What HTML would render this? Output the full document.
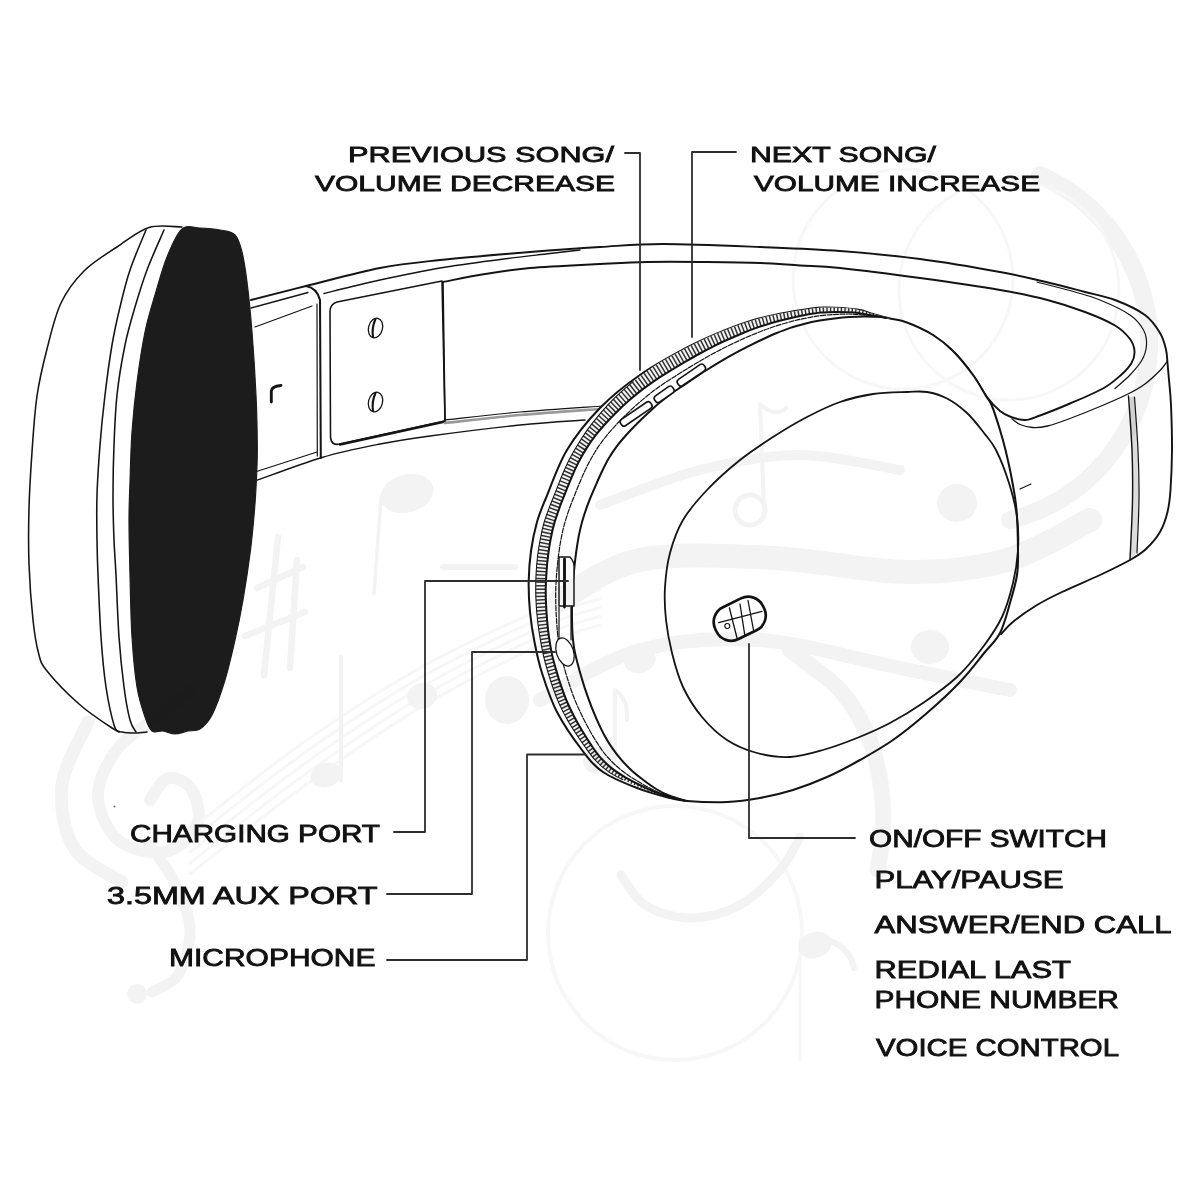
<!DOCTYPE html>
<html><head><meta charset="utf-8"><title>Headphone controls diagram</title>
<style>
html,body{margin:0;padding:0;background:#fff;}
body{width:1200px;height:1200px;overflow:hidden;font-family:"Liberation Sans",sans-serif;}
svg{display:block;filter:blur(0.4px);}
text{font-family:"Liberation Sans",sans-serif;}
</style></head><body>
<svg width="1200" height="1200" viewBox="0 0 1200 1200" stroke-linecap="round" stroke-linejoin="round">
<rect width="1200" height="1200" fill="#ffffff"/>
<path d="M251.0 300.0C260.2 297.7 284.5 291.3 306.0 286.0C327.5 280.7 357.7 272.3 380.0 268.0C402.3 263.7 415.0 262.7 440.0 260.0C465.0 257.3 503.3 254.2 530.0 252.0C556.7 249.8 577.8 248.3 600.0 247.0C622.2 245.7 636.3 244.0 663.0 244.0C689.7 244.0 730.5 245.8 760.0 247.0C789.5 248.2 813.3 249.0 840.0 251.0C866.7 253.0 893.3 255.5 920.0 259.0C946.7 262.5 978.3 268.0 1000.0 272.0C1021.7 276.0 1035.8 279.7 1050.0 283.0C1064.2 286.3 1074.2 289.2 1085.0 292.0C1095.8 294.8 1105.0 296.2 1115.0 300.0C1125.0 303.8 1137.5 309.5 1145.0 315.0C1152.5 320.5 1156.5 327.2 1160.0 333.0C1163.5 338.8 1164.8 344.5 1166.0 349.5C1167.2 354.5 1167.0 357.9 1167.5 363.0C1168.0 368.1 1168.4 373.0 1169.0 380.0C1169.6 387.0 1170.5 393.3 1171.0 405.0C1171.5 416.7 1172.1 435.8 1172.0 450.0C1171.9 464.2 1171.2 479.7 1170.5 490.0C1169.8 500.3 1169.2 505.0 1167.5 512.0C1165.8 519.0 1163.6 525.8 1160.0 532.0C1156.4 538.2 1151.0 544.3 1146.0 549.0C1141.0 553.7 1137.7 555.7 1130.0 560.0C1122.3 564.3 1111.3 569.7 1100.0 575.0C1088.7 580.3 1072.5 587.0 1062.0 592.0C1051.5 597.0 1045.0 600.2 1037.0 605.0C1029.0 609.8 1020.0 616.2 1014.0 621.0C1008.0 625.8 1003.2 631.8 1001.0 634.0" fill="none" stroke="#141414" stroke-width="1.92" />
<path d="M251.0 308.0C260.5 305.4 298.5 295.1 308.0 292.5" fill="none" stroke="#141414" stroke-width="1.32" />
<path d="M324.0 293.5C333.3 291.2 360.7 284.2 380.0 280.0C399.3 275.8 420.0 271.4 440.0 268.0C460.0 264.6 481.7 261.9 500.0 259.5C518.3 257.1 536.7 255.1 550.0 253.5C563.3 251.9 575.0 250.6 580.0 250.0" fill="none" stroke="#141414" stroke-width="1.32" />
<path d="M1037.0 282.0C1043.3 283.7 1064.5 289.0 1075.0 292.0C1085.5 295.0 1090.8 296.2 1100.0 300.0C1109.2 303.8 1122.8 310.0 1130.0 315.0C1137.2 320.0 1140.8 325.0 1143.5 330.0C1146.2 335.0 1146.8 340.0 1146.5 345.0C1146.2 350.0 1144.8 355.0 1142.0 360.0C1139.2 365.0 1134.5 370.2 1130.0 375.0C1125.5 379.8 1117.5 386.2 1115.0 388.5" fill="none" stroke="#141414" stroke-width="1.2" />
<path d="M1167.5 361.0C1166.2 362.6 1163.8 366.7 1160.0 370.5C1156.2 374.3 1150.5 380.0 1145.0 384.0C1139.5 388.0 1134.5 390.8 1127.0 394.5C1119.5 398.2 1109.5 402.5 1100.0 406.5C1090.5 410.5 1078.8 415.2 1070.0 418.5C1061.2 421.8 1053.8 424.5 1047.5 426.0C1041.2 427.5 1037.1 427.8 1032.5 427.5C1027.9 427.2 1023.4 425.9 1020.0 424.5C1016.6 423.1 1013.3 419.9 1012.0 419.0" fill="none" stroke="#141414" stroke-width="1.32" />
<path d="M443.0 282.0C450.0 280.7 470.5 276.3 485.0 274.0C499.5 271.7 510.8 269.7 530.0 268.0C549.2 266.3 580.5 265.0 600.0 264.0C619.5 263.0 630.3 262.3 647.0 262.0C663.7 261.7 681.2 261.8 700.0 262.0C718.8 262.2 743.3 262.4 760.0 263.0C776.7 263.6 786.7 264.7 800.0 265.5C813.3 266.3 820.0 265.9 840.0 268.0C860.0 270.1 893.3 274.3 920.0 278.0C946.7 281.7 978.8 286.3 1000.0 290.0C1021.2 293.7 1033.3 296.3 1047.5 300.0C1061.7 303.7 1073.8 307.8 1085.0 312.0C1096.2 316.2 1107.5 321.0 1115.0 325.5C1122.5 330.0 1126.8 334.8 1130.0 339.0C1133.2 343.2 1134.2 347.0 1134.5 351.0C1134.8 355.0 1133.8 359.0 1131.5 363.0C1129.2 367.0 1125.8 370.8 1121.0 375.0C1116.2 379.2 1111.5 383.8 1103.0 388.5C1094.5 393.2 1080.5 399.0 1070.0 403.5C1059.5 408.0 1047.5 412.8 1040.0 415.5C1032.5 418.2 1029.8 419.8 1025.0 420.0C1020.2 420.2 1015.2 418.5 1011.0 417.0C1006.8 415.5 1004.0 414.3 1000.0 411.0C996.0 407.7 991.5 403.0 987.0 397.0C982.5 391.0 978.7 382.7 973.0 375.0C967.3 367.3 959.7 357.7 953.0 351.0C946.3 344.3 936.3 337.7 933.0 335.0" fill="none" stroke="#141414" stroke-width="1.92" />
<path d="M255.0 327.0L312.0 306.0" fill="none" stroke="#141414" stroke-width="1.2" />
<path d="M255.0 472.0L317.0 452.0" fill="none" stroke="#141414" stroke-width="1.2" />
<path d="M306 286 Q317 288 320 300 L320.8 458" fill="none" stroke="#141414" stroke-width="2.04" />
<path d="M317 304 L317.3 456" fill="none" stroke="#141414" stroke-width="1.2" />
<path d="M337 302 L442 281 L445 421 L340 444 Q331 446 330.5 437 L330 312 Q330 304 337 302Z" fill="none" stroke="#141414" stroke-width="1.56" />
<path d="M340.0 444.5L445.0 421.5" fill="none" stroke="#141414" stroke-width="2.64" />
<path d="M443.0 282.0L445.0 421.0" fill="none" stroke="#141414" stroke-width="1.56" />
<ellipse cx="375.5" cy="328" rx="7" ry="10" fill="none" stroke="#141414" stroke-width="1.3" transform="rotate(14 375.5 328)"/>
<path d="M375.5 319 Q371.5 328 373 337" fill="none" stroke="#141414" stroke-width="2.16" />
<ellipse cx="375.5" cy="402" rx="7" ry="10" fill="none" stroke="#141414" stroke-width="1.3" transform="rotate(14 375.5 402)"/>
<path d="M375.5 393 Q371.5 402 373 411" fill="none" stroke="#141414" stroke-width="2.16" />
<path d="M271.3 402 L271.3 391 Q271.5 386.5 281 385.5" fill="none" stroke="#141414" stroke-width="2.88" />
<path d="M445.0 420.0C457.5 418.7 493.7 414.3 520.0 412.0C546.3 409.7 589.2 407.0 603.0 406.0" fill="none" stroke="#141414" stroke-width="1.2" />
<path d="M445.0 423.0C457.5 421.7 494.2 417.3 520.0 415.0C545.8 412.7 586.7 410.0 600.0 409.0" fill="none" stroke="#9a9a9a" stroke-width="2.64" />
<path d="M255.0 481.0C266.2 477.1 301.2 463.7 322.0 457.5C342.8 451.3 362.0 447.6 380.0 444.0C398.0 440.4 406.7 439.2 430.0 436.0C453.3 432.8 494.2 427.7 520.0 425.0C545.8 422.3 574.2 420.8 585.0 420.0" fill="none" stroke="#141414" stroke-width="1.44" />
<path d="M1129 397 L1134.5 397 L1138 450 L1139 500 L1137 552 L1130.5 559 L1132.5 500 L1132 450 Z" fill="#dcdcdc" stroke="none" stroke-width="0" />
<path d="M1128.5 396.0C1129.1 405.0 1131.3 432.7 1132.0 450.0C1132.7 467.3 1132.8 481.7 1132.5 500.0C1132.2 518.3 1130.4 550.0 1130.0 560.0" fill="none" stroke="#141414" stroke-width="1.44" />
<path d="M1134.5 397.0C1135.1 405.8 1137.2 432.8 1138.0 450.0C1138.8 467.2 1139.2 482.8 1139.0 500.0C1138.8 517.2 1137.3 544.2 1137.0 553.0" fill="none" stroke="#141414" stroke-width="1.2" />
<path d="M1020.0 489.0L1031.0 484.0" fill="none" stroke="#141414" stroke-width="1.2" />
<path d="M182.0 227.0C176.5 227.1 159.8 224.2 149.0 227.5C138.2 230.8 127.8 239.8 117.0 247.0C106.2 254.2 93.3 261.7 84.0 271.0C74.7 280.3 67.2 290.0 61.0 303.0C54.8 316.0 51.0 333.5 47.0 349.0C43.0 364.5 39.5 378.8 37.0 396.0C34.5 413.2 33.3 433.3 32.0 452.0C30.7 470.7 29.5 489.3 29.0 508.0C28.5 526.7 28.3 545.3 29.0 564.0C29.7 582.7 31.4 605.2 33.0 620.0C34.6 634.8 36.2 644.5 38.5 653.0C40.8 661.5 40.2 662.5 47.0 671.0C53.8 679.5 68.2 694.5 79.0 704.0C89.8 713.5 104.8 723.3 112.0 728.0C119.2 732.7 118.2 731.2 122.0 732.0C125.8 732.8 130.8 733.0 135.0 733.0C139.2 733.0 145.0 732.2 147.0 732.0" fill="#fff" stroke="#141414" stroke-width="1.56" />
<path d="M146.0 230.0C143.3 236.7 134.3 257.2 130.0 270.0C125.7 282.8 123.0 294.5 120.0 307.0C117.0 319.5 114.5 330.3 112.0 345.0C109.5 359.7 107.0 378.3 105.0 395.0C103.0 411.7 101.3 428.3 100.0 445.0C98.7 461.7 97.5 479.2 97.0 495.0C96.5 510.8 96.8 526.7 97.0 540.0C97.2 553.3 97.3 558.8 98.0 575.0C98.7 591.2 99.7 618.3 101.0 637.0C102.3 655.7 103.8 672.3 106.0 687.0C108.2 701.7 111.8 717.5 114.0 725.0C116.2 732.5 118.2 730.8 119.0 732.0" fill="none" stroke="#141414" stroke-width="1.56" />
<path d="M164.0 230.0C161.2 236.7 151.8 257.2 147.0 270.0C142.2 282.8 138.7 294.5 135.0 307.0C131.3 319.5 128.0 330.3 125.0 345.0C122.0 359.7 118.8 378.3 117.0 395.0C115.2 411.7 114.7 428.3 114.0 445.0C113.3 461.7 113.0 479.2 113.0 495.0C113.0 510.8 113.5 526.7 114.0 540.0C114.5 553.3 115.2 558.8 116.0 575.0C116.8 591.2 117.7 618.3 119.0 637.0C120.3 655.7 122.2 673.2 124.0 687.0C125.8 700.8 128.0 712.5 130.0 720.0C132.0 727.5 135.0 730.0 136.0 732.0" fill="none" stroke="#141414" stroke-width="1.56" />
<path d="M182.0 229.0C176.5 233.8 171.5 246.0 167.0 257.0C162.5 268.0 158.7 282.5 155.0 295.0C151.3 307.5 148.0 317.5 145.0 332.0C142.0 346.5 139.2 365.3 137.0 382.0C134.8 398.7 133.2 415.3 132.0 432.0C130.8 448.7 130.5 467.3 130.0 482.0C129.5 496.7 129.0 504.5 129.0 520.0C129.0 535.5 129.5 555.5 130.0 575.0C130.5 594.5 130.8 618.3 132.0 637.0C133.2 655.7 134.8 673.7 137.0 687.0C139.2 700.3 142.5 709.7 145.0 717.0C147.5 724.3 149.0 728.7 152.0 731.0C155.0 733.3 159.2 730.5 163.0 731.0C166.8 731.5 170.8 734.0 175.0 734.0C179.2 734.0 183.8 731.8 188.0 731.0C192.2 730.2 196.0 731.7 200.0 729.0C204.0 726.3 207.8 723.2 212.0 715.0C216.2 706.8 221.2 692.5 225.0 680.0C228.8 667.5 232.0 653.3 235.0 640.0C238.0 626.7 240.4 615.0 243.0 600.0C245.6 585.0 248.6 565.0 250.5 550.0C252.4 535.0 253.5 522.0 254.5 510.0C255.5 498.0 256.0 488.8 256.5 478.0C257.0 467.2 257.4 458.8 257.3 445.0C257.2 431.2 256.9 413.8 256.0 395.0C255.1 376.2 253.5 350.8 252.0 332.0C250.5 313.2 248.7 295.3 247.0 282.0C245.3 268.7 244.0 259.8 242.0 252.0C240.0 244.2 238.7 238.7 235.0 235.0C231.3 231.3 225.8 231.2 220.0 230.0C214.2 228.8 206.3 228.2 200.0 228.0C193.7 227.8 187.5 224.2 182.0 229.0Z" fill="#1c1c1c" stroke="#1c1c1c" stroke-width="1.2" />
<path d="M1018.0 550.0C1017.9 539.2 1017.5 521.7 1016.5 510.0C1015.5 498.3 1013.8 490.0 1012.0 480.0C1010.2 470.0 1007.5 458.3 1005.5 450.0C1003.5 441.7 1002.2 437.3 1000.0 430.0C997.8 422.7 994.3 411.7 992.0 406.0C989.7 400.3 989.2 401.2 986.0 396.0C982.8 390.8 978.5 382.5 973.0 375.0C967.5 367.5 959.7 357.7 953.0 351.0C946.3 344.3 940.7 339.8 933.0 335.0C925.3 330.2 914.2 325.2 907.0 322.5C899.8 319.8 895.7 319.9 890.0 318.5C884.3 317.1 878.5 315.5 873.0 314.0C867.5 312.5 865.3 310.6 857.0 309.5C848.7 308.4 834.2 307.1 823.0 307.5C811.8 307.9 801.0 310.1 790.0 312.0C779.0 313.9 768.2 315.8 757.0 319.0C745.8 322.2 734.2 326.5 723.0 331.0C711.8 335.5 703.8 338.7 690.0 346.0C676.2 353.3 655.0 364.7 640.0 375.0C625.0 385.3 612.2 395.5 600.0 408.0C587.8 420.5 576.0 435.0 567.0 450.0C558.0 465.0 551.0 486.0 546.0 498.0C541.0 510.0 539.5 513.2 537.0 522.0C534.5 530.8 532.4 541.2 531.0 551.0C529.6 560.8 528.9 570.8 528.7 581.0C528.5 591.2 529.0 601.8 530.0 612.0C531.0 622.2 532.5 631.8 534.5 642.0C536.5 652.2 538.2 661.3 542.0 673.0C545.8 684.7 550.3 699.2 557.0 712.0C563.7 724.8 574.3 740.0 582.0 750.0C589.7 760.0 593.8 765.7 603.0 772.0C612.2 778.3 625.8 783.7 637.0 788.0C648.2 792.3 661.7 795.8 670.0 798.0C678.3 800.2 677.5 800.3 687.0 801.0C696.5 801.7 714.8 802.5 727.0 802.0C739.2 801.5 749.0 800.0 760.0 798.0C771.0 796.0 781.8 793.5 793.0 790.0C804.2 786.5 815.8 782.0 827.0 777.0C838.2 772.0 849.0 766.2 860.0 760.0C871.0 753.8 881.8 747.8 893.0 740.0C904.2 732.2 915.8 722.7 927.0 713.0C938.2 703.3 950.3 692.2 960.0 682.0C969.7 671.8 978.3 660.2 985.0 652.0C991.7 643.8 995.8 641.2 1000.0 633.0C1004.2 624.8 1007.2 612.7 1010.0 603.0C1012.8 593.3 1015.7 583.8 1017.0 575.0C1018.3 566.2 1018.1 560.8 1018.0 550.0Z" fill="#fff" stroke="#141414" stroke-width="2.04" />
<clipPath id="bandclip"><path d="M890.0 318.5C887.2 317.8 878.9 315.6 873.3 314.1C867.8 312.6 862.4 310.5 856.8 309.5C851.2 308.4 845.4 308.2 839.7 307.8C833.9 307.5 828.2 307.3 822.4 307.5C816.7 307.8 811.0 308.6 805.3 309.4C799.6 310.2 794.0 311.3 788.3 312.3C782.7 313.3 777.0 314.2 771.4 315.5C765.8 316.7 760.2 318.1 754.7 319.7C749.2 321.3 743.8 323.2 738.4 325.1C733.0 327.0 727.6 329.1 722.3 331.3C717.0 333.4 711.6 335.6 706.4 337.9C701.2 340.3 696.0 342.9 690.9 345.5C685.8 348.1 680.8 350.9 675.8 353.6C670.7 356.4 665.6 359.1 660.7 362.1C655.9 365.0 651.1 368.2 646.5 371.5C641.9 374.8 637.4 378.2 633.0 381.7C628.6 385.3 624.3 388.9 620.2 392.7C616.0 396.5 612.0 400.5 608.1 404.6C604.3 408.7 600.6 412.9 597.0 417.3C593.5 421.6 590.0 426.1 586.8 430.6C583.6 435.2 580.6 439.9 577.7 444.7C574.8 449.5 571.9 454.4 569.3 459.4C566.8 464.4 564.5 469.6 562.3 474.7C560.1 479.9 558.2 485.2 556.1 490.4C554.0 495.7 551.8 500.9 549.8 506.1C547.9 511.4 545.8 516.7 544.2 522.0C542.6 527.4 541.4 533.0 540.4 538.5C539.3 544.0 538.4 549.6 537.7 555.2C537.0 560.7 536.5 566.4 536.2 572.0C535.8 577.6 535.7 583.2 535.7 588.9C535.7 594.5 535.9 600.1 536.3 605.7C536.6 611.4 537.2 617.0 537.8 622.5C538.5 628.1 539.3 633.7 540.3 639.2C541.2 644.8 542.2 650.3 543.5 655.8C544.8 661.3 546.3 666.7 547.9 672.1C549.5 677.5 551.2 682.9 553.1 688.2C555.0 693.5 557.0 698.8 559.2 703.9C561.5 709.0 564.2 714.1 566.9 719.0C569.6 723.9 572.6 728.6 575.7 733.3C578.8 738.0 581.9 742.7 585.3 747.2C588.6 751.8 591.8 756.5 595.6 760.5C599.4 764.6 603.7 768.4 608.3 771.6C612.8 774.8 617.9 777.3 622.9 779.8C627.8 782.4 633.0 784.7 638.1 786.8C643.3 789.0 648.5 791.0 653.9 792.8C659.2 794.6 664.5 796.3 670.0 797.7C675.4 799.0 683.8 800.4 686.5 800.9L685.9 800.8C683.2 800.2 675.1 798.7 669.9 797.2C664.6 795.7 659.5 793.8 654.4 791.8C649.4 789.8 644.5 787.5 639.6 785.1C634.7 782.7 629.9 780.2 625.2 777.5C620.6 774.7 615.9 771.9 611.7 768.5C607.5 765.1 603.5 761.3 599.9 757.2C596.3 753.2 593.3 748.5 590.2 744.0C587.1 739.5 584.2 734.9 581.4 730.2C578.6 725.5 575.9 720.8 573.4 715.9C570.9 711.1 568.5 706.1 566.4 701.1C564.3 696.1 562.4 690.9 560.7 685.7C558.9 680.5 557.2 675.3 555.7 670.0C554.2 664.8 552.7 659.5 551.6 654.1C550.4 648.8 549.5 643.4 548.7 638.0C547.9 632.6 547.3 627.1 546.8 621.7C546.3 616.2 545.9 610.8 545.6 605.3C545.4 599.8 545.2 594.4 545.3 588.9C545.3 583.4 545.6 577.9 546.0 572.5C546.4 567.0 546.9 561.5 547.6 556.1C548.2 550.7 549.0 545.2 550.1 539.9C551.1 534.5 552.2 529.1 553.7 523.8C555.1 518.6 557.0 513.4 558.9 508.3C560.7 503.1 562.8 498.0 564.8 493.0C566.9 487.9 568.8 482.7 571.0 477.7C573.2 472.7 575.3 467.6 577.8 462.7C580.3 457.9 583.0 453.1 585.9 448.5C588.8 443.8 592.0 439.4 595.4 435.0C598.7 430.7 602.3 426.6 606.0 422.5C609.7 418.4 613.5 414.5 617.4 410.7C621.3 406.9 625.4 403.2 629.5 399.6C633.7 396.0 637.9 392.5 642.3 389.2C646.6 385.9 651.1 382.7 655.6 379.6C660.1 376.6 664.8 373.7 669.5 370.8C674.2 368.0 678.9 365.2 683.6 362.4C688.3 359.6 693.0 356.9 697.8 354.2C702.6 351.6 707.4 349.0 712.3 346.5C717.2 344.1 722.2 341.8 727.2 339.6C732.2 337.3 737.2 335.1 742.3 333.1C747.3 331.0 752.4 329.0 757.6 327.2C762.7 325.4 768.0 323.7 773.2 322.2C778.4 320.7 783.8 319.5 789.1 318.2C794.4 317.0 799.8 315.8 805.1 314.8C810.5 313.9 815.9 313.0 821.4 312.5C826.8 312.0 832.3 311.9 837.7 311.8C843.2 311.8 848.7 311.8 854.1 312.3C859.5 312.8 864.8 314.0 870.1 315.0C875.5 315.9 883.5 317.4 886.2 317.9Z"/></clipPath>
<path d="M890.0 318.5C887.2 317.8 878.9 315.6 873.3 314.1C867.8 312.6 862.4 310.5 856.8 309.5C851.2 308.4 845.4 308.2 839.7 307.8C833.9 307.5 828.2 307.3 822.4 307.5C816.7 307.8 811.0 308.6 805.3 309.4C799.6 310.2 794.0 311.3 788.3 312.3C782.7 313.3 777.0 314.2 771.4 315.5C765.8 316.7 760.2 318.1 754.7 319.7C749.2 321.3 743.8 323.2 738.4 325.1C733.0 327.0 727.6 329.1 722.3 331.3C717.0 333.4 711.6 335.6 706.4 337.9C701.2 340.3 696.0 342.9 690.9 345.5C685.8 348.1 680.8 350.9 675.8 353.6C670.7 356.4 665.6 359.1 660.7 362.1C655.9 365.0 651.1 368.2 646.5 371.5C641.9 374.8 637.4 378.2 633.0 381.7C628.6 385.3 624.3 388.9 620.2 392.7C616.0 396.5 612.0 400.5 608.1 404.6C604.3 408.7 600.6 412.9 597.0 417.3C593.5 421.6 590.0 426.1 586.8 430.6C583.6 435.2 580.6 439.9 577.7 444.7C574.8 449.5 571.9 454.4 569.3 459.4C566.8 464.4 564.5 469.6 562.3 474.7C560.1 479.9 558.2 485.2 556.1 490.4C554.0 495.7 551.8 500.9 549.8 506.1C547.9 511.4 545.8 516.7 544.2 522.0C542.6 527.4 541.4 533.0 540.4 538.5C539.3 544.0 538.4 549.6 537.7 555.2C537.0 560.7 536.5 566.4 536.2 572.0C535.8 577.6 535.7 583.2 535.7 588.9C535.7 594.5 535.9 600.1 536.3 605.7C536.6 611.4 537.2 617.0 537.8 622.5C538.5 628.1 539.3 633.7 540.3 639.2C541.2 644.8 542.2 650.3 543.5 655.8C544.8 661.3 546.3 666.7 547.9 672.1C549.5 677.5 551.2 682.9 553.1 688.2C555.0 693.5 557.0 698.8 559.2 703.9C561.5 709.0 564.2 714.1 566.9 719.0C569.6 723.9 572.6 728.6 575.7 733.3C578.8 738.0 581.9 742.7 585.3 747.2C588.6 751.8 591.8 756.5 595.6 760.5C599.4 764.6 603.7 768.4 608.3 771.6C612.8 774.8 617.9 777.3 622.9 779.8C627.8 782.4 633.0 784.7 638.1 786.8C643.3 789.0 648.5 791.0 653.9 792.8C659.2 794.6 664.5 796.3 670.0 797.7C675.4 799.0 683.8 800.4 686.5 800.9L685.9 800.8C683.2 800.2 675.1 798.7 669.9 797.2C664.6 795.7 659.5 793.8 654.4 791.8C649.4 789.8 644.5 787.5 639.6 785.1C634.7 782.7 629.9 780.2 625.2 777.5C620.6 774.7 615.9 771.9 611.7 768.5C607.5 765.1 603.5 761.3 599.9 757.2C596.3 753.2 593.3 748.5 590.2 744.0C587.1 739.5 584.2 734.9 581.4 730.2C578.6 725.5 575.9 720.8 573.4 715.9C570.9 711.1 568.5 706.1 566.4 701.1C564.3 696.1 562.4 690.9 560.7 685.7C558.9 680.5 557.2 675.3 555.7 670.0C554.2 664.8 552.7 659.5 551.6 654.1C550.4 648.8 549.5 643.4 548.7 638.0C547.9 632.6 547.3 627.1 546.8 621.7C546.3 616.2 545.9 610.8 545.6 605.3C545.4 599.8 545.2 594.4 545.3 588.9C545.3 583.4 545.6 577.9 546.0 572.5C546.4 567.0 546.9 561.5 547.6 556.1C548.2 550.7 549.0 545.2 550.1 539.9C551.1 534.5 552.2 529.1 553.7 523.8C555.1 518.6 557.0 513.4 558.9 508.3C560.7 503.1 562.8 498.0 564.8 493.0C566.9 487.9 568.8 482.7 571.0 477.7C573.2 472.7 575.3 467.6 577.8 462.7C580.3 457.9 583.0 453.1 585.9 448.5C588.8 443.8 592.0 439.4 595.4 435.0C598.7 430.7 602.3 426.6 606.0 422.5C609.7 418.4 613.5 414.5 617.4 410.7C621.3 406.9 625.4 403.2 629.5 399.6C633.7 396.0 637.9 392.5 642.3 389.2C646.6 385.9 651.1 382.7 655.6 379.6C660.1 376.6 664.8 373.7 669.5 370.8C674.2 368.0 678.9 365.2 683.6 362.4C688.3 359.6 693.0 356.9 697.8 354.2C702.6 351.6 707.4 349.0 712.3 346.5C717.2 344.1 722.2 341.8 727.2 339.6C732.2 337.3 737.2 335.1 742.3 333.1C747.3 331.0 752.4 329.0 757.6 327.2C762.7 325.4 768.0 323.7 773.2 322.2C778.4 320.7 783.8 319.5 789.1 318.2C794.4 317.0 799.8 315.8 805.1 314.8C810.5 313.9 815.9 313.0 821.4 312.5C826.8 312.0 832.3 311.9 837.7 311.8C843.2 311.8 848.7 311.8 854.1 312.3C859.5 312.8 864.8 314.0 870.1 315.0C875.5 315.9 883.5 317.4 886.2 317.9Z" fill="#f4f4f4" stroke="none" stroke-width="0" />
<path d="M888.1 318.2C885.4 317.6 877.2 315.7 871.7 314.5C866.3 313.3 861.0 311.7 855.5 310.9C850.0 310.1 844.3 310.0 838.7 309.8C833.1 309.7 827.5 309.6 821.9 310.0C816.3 310.4 810.8 311.2 805.2 312.1C799.7 313.0 794.2 314.1 788.7 315.3C783.2 316.4 777.7 317.5 772.3 318.9C766.9 320.2 761.5 321.7 756.2 323.4C750.8 325.1 745.6 327.1 740.3 329.1C735.1 331.1 729.9 333.2 724.8 335.4C719.6 337.6 714.4 339.8 709.4 342.2C704.3 344.6 699.3 347.2 694.4 349.9C689.4 352.5 684.6 355.3 679.7 358.0C674.8 360.8 669.9 363.6 665.1 366.5C660.3 369.3 655.5 372.2 650.8 375.3C646.1 378.4 641.5 381.6 637.0 385.0C632.6 388.4 628.1 391.8 623.9 395.5C619.6 399.1 615.4 402.8 611.4 406.7C607.3 410.6 603.4 414.6 599.7 418.8C595.9 423.0 592.2 427.2 588.8 431.6C585.3 436.1 582.0 440.6 579.0 445.3C575.9 450.0 573.1 454.8 570.5 459.8C567.9 464.8 565.7 470.0 563.5 475.1C561.3 480.3 559.4 485.6 557.3 490.8C555.2 496.0 553.0 501.2 551.1 506.4C549.1 511.7 547.1 516.9 545.5 522.3C543.9 527.7 542.8 533.2 541.7 538.7C540.6 544.2 539.7 549.7 539.1 555.3C538.4 560.9 537.9 566.5 537.5 572.0C537.2 577.6 537.0 583.3 537.0 588.9C537.0 594.5 537.2 600.1 537.6 605.7C537.9 611.3 538.4 616.9 539.0 622.4C539.7 628.0 540.5 633.5 541.4 639.1C542.4 644.6 543.3 650.1 544.6 655.6C545.8 661.1 547.4 666.5 549.0 671.8C550.6 677.2 552.3 682.6 554.2 687.8C556.0 693.1 557.9 698.4 560.2 703.5C562.5 708.7 565.1 713.6 567.8 718.5C570.5 723.4 573.5 728.2 576.5 732.9C579.5 737.6 582.6 742.3 585.9 746.8C589.2 751.3 592.4 756.0 596.2 760.1C600.0 764.2 604.2 767.9 608.7 771.2C613.2 774.4 618.2 777.0 623.2 779.5C628.1 782.1 633.2 784.4 638.3 786.6C643.5 788.8 648.7 790.8 653.9 792.6C659.2 794.5 664.5 796.2 670.0 797.6C675.4 799.0 683.7 800.4 686.4 800.9" fill="none" stroke="#333" stroke-width="20.0" stroke-dasharray="1.5 2.1" stroke-linecap="butt" clip-path="url(#bandclip)"/>
<path d="M633.0 381.7C630.9 383.6 624.3 388.9 620.2 392.7C616.0 396.5 612.0 400.5 608.1 404.6C604.3 408.7 600.6 412.9 597.0 417.3C593.5 421.6 590.0 426.1 586.8 430.6C583.6 435.2 580.6 439.9 577.7 444.7C574.8 449.5 571.9 454.4 569.3 459.4C566.8 464.4 564.5 469.6 562.3 474.7C560.1 479.9 558.2 485.2 556.1 490.4C554.0 495.7 551.8 500.9 549.8 506.1C547.9 511.4 545.8 516.7 544.2 522.0C542.6 527.4 541.4 533.0 540.4 538.5C539.3 544.0 538.4 549.6 537.7 555.2C537.0 560.7 536.5 566.4 536.2 572.0C535.8 577.6 535.7 583.2 535.7 588.9C535.7 594.5 535.9 600.1 536.3 605.7C536.6 611.4 537.2 617.0 537.8 622.5C538.5 628.1 539.3 633.7 540.3 639.2C541.2 644.8 542.2 650.3 543.5 655.8C544.8 661.3 546.3 666.7 547.9 672.1C549.5 677.5 551.2 682.9 553.1 688.2C555.0 693.5 557.0 698.8 559.2 703.9C561.5 709.0 564.2 714.1 566.9 719.0C569.6 723.9 572.6 728.6 575.7 733.3C578.8 738.0 581.9 742.7 585.3 747.2C588.6 751.8 591.8 756.5 595.6 760.5C599.4 764.6 603.7 768.4 608.3 771.6C612.8 774.8 620.4 778.5 622.9 779.8" fill="none" stroke="#141414" stroke-width="1.08" />
<path d="M886.1 317.9C883.4 317.4 875.4 315.9 870.0 315.0C864.7 314.1 859.4 312.9 854.0 312.4C848.7 311.9 843.1 311.9 837.7 311.9C832.2 312.0 826.8 312.1 821.4 312.6C815.9 313.1 810.5 314.0 805.1 315.0C799.8 315.9 794.4 317.1 789.1 318.4C783.8 319.6 778.5 320.9 773.2 322.4C768.0 323.9 762.8 325.6 757.7 327.4C752.5 329.2 747.4 331.2 742.4 333.3C737.3 335.4 732.3 337.6 727.3 339.8C722.4 342.0 717.4 344.3 712.5 346.8C707.6 349.2 702.8 351.8 698.0 354.5C693.2 357.1 688.5 359.9 683.8 362.6C679.1 365.4 674.4 368.2 669.7 371.1C665.1 373.9 660.4 376.8 655.9 379.8C651.3 382.9 646.9 386.1 642.5 389.4C638.2 392.8 634.0 396.2 629.8 399.8C625.7 403.4 621.6 407.1 617.7 410.9C613.8 414.7 610.0 418.6 606.3 422.7C602.6 426.7 599.1 430.9 595.7 435.2C592.4 439.5 589.2 444.0 586.3 448.6C583.3 453.2 580.6 458.0 578.2 462.9C575.7 467.8 573.5 472.8 571.4 477.8C569.2 482.9 567.3 488.0 565.2 493.1C563.2 498.2 561.1 503.2 559.3 508.4C557.4 513.5 555.6 518.7 554.1 523.9C552.6 529.2 551.5 534.6 550.5 539.9C549.5 545.3 548.7 550.7 548.0 556.2C547.3 561.6 546.8 567.0 546.5 572.5C546.1 577.9 545.8 583.4 545.7 588.9C545.7 594.3 545.8 599.8 546.1 605.3C546.3 610.7 546.7 616.2 547.2 621.6C547.7 627.1 548.3 632.5 549.1 637.9C549.9 643.3 550.8 648.7 551.9 654.1C553.1 659.4 554.6 664.7 556.1 669.9C557.6 675.2 559.2 680.4 561.0 685.6C562.8 690.8 564.6 696.0 566.7 701.0C568.8 706.0 571.2 710.9 573.7 715.8C576.2 720.6 578.9 725.4 581.7 730.1C584.5 734.7 587.4 739.4 590.4 743.9C593.5 748.4 596.5 753.0 600.1 757.1C603.7 761.2 607.7 765.0 611.9 768.4C616.1 771.7 620.7 774.6 625.3 777.4C630.0 780.1 634.8 782.6 639.7 785.0C644.5 787.4 649.4 789.7 654.5 791.7C659.5 793.8 664.6 795.6 669.9 797.2C675.1 798.7 683.2 800.2 685.8 800.8" fill="none" stroke="#141414" stroke-width="2.04" />
<path d="M883.8 317.6C881.2 317.2 873.3 316.1 868.1 315.5C862.9 314.9 857.7 314.3 852.4 314.1C847.2 313.9 841.8 314.1 836.5 314.4C831.3 314.6 826.0 315.0 820.7 315.6C815.5 316.3 810.2 317.2 805.0 318.3C799.8 319.3 794.7 320.6 789.5 322.0C784.4 323.4 779.3 324.9 774.3 326.5C769.3 328.2 764.3 330.0 759.4 332.0C754.5 333.9 749.6 336.0 744.7 338.1C739.9 340.3 735.1 342.5 730.3 344.8C725.5 347.1 720.8 349.5 716.1 352.0C711.4 354.5 706.8 357.1 702.2 359.7C697.6 362.4 693.1 365.2 688.5 367.9C684.0 370.7 679.5 373.5 675.0 376.4C670.5 379.2 666.0 382.0 661.7 385.0C657.3 388.1 653.0 391.2 648.9 394.5C644.7 397.8 640.7 401.3 636.7 404.8C632.7 408.4 628.8 412.0 625.0 415.7C621.2 419.4 617.5 423.2 614.0 427.2C610.4 431.1 606.9 435.1 603.7 439.3C600.5 443.6 597.4 447.9 594.7 452.5C591.9 457.0 589.4 461.7 587.0 466.4C584.6 471.2 582.5 476.1 580.4 481.0C578.3 485.8 576.3 490.8 574.4 495.7C572.4 500.6 570.5 505.6 568.7 510.6C567.0 515.6 565.3 520.7 564.0 525.8C562.6 530.9 561.6 536.1 560.6 541.4C559.7 546.6 559.0 551.9 558.3 557.1C557.7 562.4 557.2 567.7 556.7 573.0C556.3 578.3 555.9 583.6 555.8 588.9C555.6 594.2 555.7 599.5 555.8 604.8C556.0 610.1 556.2 615.4 556.6 620.7C556.9 626.0 557.3 631.3 557.9 636.6C558.6 641.8 559.3 647.1 560.4 652.3C561.4 657.5 562.8 662.6 564.3 667.8C565.7 672.9 567.2 678.0 568.9 683.0C570.5 688.1 572.2 693.1 574.1 698.0C576.1 703.0 578.2 707.8 580.5 712.6C582.7 717.4 585.2 722.1 587.7 726.8C590.2 731.4 592.8 736.1 595.6 740.5C598.5 745.0 601.3 749.5 604.6 753.6C607.9 757.7 611.6 761.6 615.5 765.2C619.3 768.7 623.5 771.9 627.8 774.9C632.1 777.9 636.6 780.6 641.2 783.3C645.7 785.9 650.3 788.5 655.1 790.7C659.8 793.0 664.8 795.0 669.8 796.7C674.8 798.3 682.6 800.0 685.1 800.7" fill="none" stroke="#141414" stroke-width="1.2" stroke-dasharray="5 1.5"/>
<path d="M880.0 317.0C877.5 316.9 869.9 316.4 864.9 316.4C859.8 316.4 854.8 316.6 849.7 317.0C844.7 317.3 839.6 317.8 834.6 318.4C829.6 319.0 824.6 319.7 819.7 320.6C814.7 321.5 809.7 322.5 804.8 323.7C799.9 325.0 795.1 326.3 790.3 327.9C785.5 329.5 780.8 331.4 776.1 333.3C771.4 335.2 766.9 337.4 762.3 339.5C757.7 341.6 753.2 343.8 748.6 346.1C744.1 348.4 739.7 350.7 735.2 353.1C730.8 355.5 726.4 358.0 722.0 360.6C717.7 363.1 713.3 365.8 709.1 368.5C704.8 371.1 700.6 373.9 696.4 376.7C692.2 379.5 688.0 382.3 683.8 385.2C679.6 388.0 675.3 390.7 671.2 393.7C667.2 396.6 663.2 399.7 659.3 403.0C655.4 406.2 651.8 409.7 648.1 413.1C644.4 416.6 640.7 420.1 637.1 423.6C633.6 427.2 630.0 430.8 626.6 434.6C623.3 438.3 619.9 442.1 616.9 446.2C613.9 450.2 611.1 454.4 608.5 458.8C606.0 463.1 603.8 467.7 601.6 472.3C599.4 476.8 597.4 481.5 595.4 486.1C593.4 490.7 591.4 495.3 589.5 500.0C587.7 504.8 585.9 509.5 584.4 514.3C582.8 519.1 581.4 524.0 580.3 528.9C579.1 533.8 578.2 538.8 577.4 543.8C576.6 548.7 575.9 553.8 575.3 558.8C574.7 563.8 574.2 568.8 573.7 573.8C573.2 578.9 572.6 583.9 572.3 588.9C572.0 594.0 572.0 599.0 572.0 604.1C571.9 609.1 571.9 614.2 572.0 619.2C572.1 624.3 572.1 629.3 572.5 634.4C572.9 639.4 573.4 644.4 574.3 649.4C575.2 654.4 576.5 659.3 577.8 664.2C579.0 669.0 580.4 673.9 581.9 678.7C583.3 683.6 584.8 688.4 586.5 693.2C588.1 698.0 589.9 702.7 591.7 707.4C593.6 712.1 595.5 716.8 597.6 721.4C599.7 726.0 601.8 730.6 604.2 735.0C606.6 739.4 609.2 743.8 612.1 747.9C615.0 752.1 618.1 756.1 621.4 759.9C624.7 763.7 628.2 767.4 631.9 770.8C635.6 774.2 639.6 777.3 643.7 780.3C647.7 783.4 651.8 786.4 656.1 789.0C660.4 791.6 664.9 793.9 669.6 795.8C674.3 797.7 681.6 799.7 684.0 800.5" fill="none" stroke="#141414" stroke-width="2.04" />
<path d="M907.0 392.0C898.0 392.3 884.2 392.3 873.0 394.0C861.8 395.7 851.0 398.2 840.0 402.0C829.0 405.8 818.2 411.2 807.0 417.0C795.8 422.8 784.2 429.8 773.0 437.0C761.8 444.2 751.0 451.2 740.0 460.0C729.0 468.8 716.5 480.0 707.0 490.0C697.5 500.0 689.2 509.5 683.0 520.0C676.8 530.5 673.0 541.8 670.0 553.0C667.0 564.2 665.7 575.8 665.0 587.0C664.3 598.2 664.8 609.0 666.0 620.0C667.2 631.0 669.2 641.8 672.0 653.0C674.8 664.2 678.0 676.3 683.0 687.0C688.0 697.7 694.7 708.2 702.0 717.0C709.3 725.8 717.8 734.0 727.0 740.0C736.2 746.0 746.5 750.2 757.0 753.0C767.5 755.8 779.0 757.5 790.0 757.0C801.0 756.5 811.8 753.2 823.0 750.0C834.2 746.8 845.8 742.5 857.0 738.0C868.2 733.5 879.0 728.8 890.0 723.0C901.0 717.2 911.8 710.7 923.0 703.0C934.2 695.3 947.0 686.3 957.0 677.0C967.0 667.7 975.5 657.0 983.0 647.0C990.5 637.0 997.0 627.7 1002.0 617.0C1007.0 606.3 1010.3 594.2 1013.0 583.0C1015.7 571.8 1017.3 561.0 1018.0 550.0C1018.7 539.0 1018.5 528.2 1017.0 517.0C1015.5 505.8 1012.5 494.2 1009.0 483.0C1005.5 471.8 1000.2 458.3 996.0 450.0C991.8 441.7 988.8 439.2 984.0 433.0C979.2 426.8 973.2 418.8 967.0 413.0C960.8 407.2 953.7 402.0 947.0 398.5C940.3 395.0 933.7 393.1 927.0 392.0C920.3 390.9 916.0 391.7 907.0 392.0Z" fill="none" stroke="#141414" stroke-width="1.8" />
<rect x="619.0" y="421.0" width="36.3" height="7.5" rx="3" fill="#fff" stroke="#141414" stroke-width="1.6" transform="rotate(-34.3 619.0 421.0)"/>
<rect x="653.0" y="397.5" width="21.9" height="7.5" rx="3" fill="#fff" stroke="#141414" stroke-width="1.6" transform="rotate(-34.8 653.0 397.5)"/>
<rect x="676.0" y="381.0" width="32.0" height="7.5" rx="3" fill="#fff" stroke="#141414" stroke-width="1.6" transform="rotate(-34.2 676.0 381.0)"/>
<path d="M559 557 L570 557 Q575 562 574 570 L574 606 L559 606Z" fill="#fff" stroke="#141414" stroke-width="1.44" />
<path d="M564.5 559 L564.5 607" fill="none" stroke="#141414" stroke-width="2.88" />
<path d="M559 607 L559 640 M571 607 L571 640" fill="none" stroke="#141414" stroke-width="1.2" />
<ellipse cx="565" cy="652" rx="8.5" ry="14.5" fill="#fff" stroke="#141414" stroke-width="1.3" transform="rotate(-18 565 652)"/>
<rect x="713.2" y="601.0" width="53" height="35.5" rx="16.5" fill="#fff" stroke="#111" stroke-width="2.7" transform="rotate(-26 739.7 618.7)"/>
<path d="M718.7 622.7 L762 611.3 M729.4 608 L737 638 M740 604 L744.7 634.5 M748 600.5 L753.6 630.5" fill="none" stroke="#141414" stroke-width="1.32" />
<circle cx="727.3" cy="626" r="2.5" fill="none" stroke="#111" stroke-width="1.1"/>
<path d="M625 153 H640 V370" fill="none" stroke="#2e2e2e" stroke-width="1.8" />
<path d="M736 152 H692 V337" fill="none" stroke="#2e2e2e" stroke-width="1.8" />
<path d="M394 832 H425 V581 H568" fill="none" stroke="#2e2e2e" stroke-width="1.8" />
<path d="M387 894 H472 V652 H555" fill="none" stroke="#2e2e2e" stroke-width="1.8" />
<path d="M387 960 H527 V754.5 H585" fill="none" stroke="#2e2e2e" stroke-width="1.8" />
<path d="M749 644 V838 H855" fill="none" stroke="#2e2e2e" stroke-width="1.8" />
<text x="348.0" y="161.9" font-size="22.8" font-weight="400" textLength="266.0" lengthAdjust="spacingAndGlyphs" fill="#111" stroke="#111" stroke-width="0.85" stroke-linejoin="miter">PREVIOUS SONG/</text>
<text x="315.0" y="191.4" font-size="22.8" font-weight="400" textLength="300.0" lengthAdjust="spacingAndGlyphs" fill="#111" stroke="#111" stroke-width="0.85" stroke-linejoin="miter">VOLUME DECREASE</text>
<text x="750.0" y="161.9" font-size="22.8" font-weight="400" textLength="186.0" lengthAdjust="spacingAndGlyphs" fill="#111" stroke="#111" stroke-width="0.85" stroke-linejoin="miter">NEXT SONG/</text>
<text x="754.0" y="191.4" font-size="22.8" font-weight="400" textLength="286.0" lengthAdjust="spacingAndGlyphs" fill="#111" stroke="#111" stroke-width="0.85" stroke-linejoin="miter">VOLUME INCREASE</text>
<text x="130.0" y="842.1" font-size="24.2" font-weight="400" textLength="250.0" lengthAdjust="spacingAndGlyphs" fill="#111" stroke="#111" stroke-width="0.85" stroke-linejoin="miter">CHARGING PORT</text>
<text x="107.0" y="903.9" font-size="24.2" font-weight="400" textLength="270.5" lengthAdjust="spacingAndGlyphs" fill="#111" stroke="#111" stroke-width="0.85" stroke-linejoin="miter">3.5MM AUX PORT</text>
<text x="169.0" y="966.3" font-size="24.2" font-weight="400" textLength="206.5" lengthAdjust="spacingAndGlyphs" fill="#111" stroke="#111" stroke-width="0.85" stroke-linejoin="miter">MICROPHONE</text>
<text x="869.0" y="846.9" font-size="24.2" font-weight="400" textLength="238.0" lengthAdjust="spacingAndGlyphs" fill="#111" stroke="#111" stroke-width="0.85" stroke-linejoin="miter">ON/OFF SWITCH</text>
<text x="874.5" y="888.0" font-size="24.2" font-weight="400" textLength="189.0" lengthAdjust="spacingAndGlyphs" fill="#111" stroke="#111" stroke-width="0.85" stroke-linejoin="miter">PLAY/PAUSE</text>
<text x="874.5" y="933.0" font-size="24.2" font-weight="400" textLength="297.0" lengthAdjust="spacingAndGlyphs" fill="#111" stroke="#111" stroke-width="0.85" stroke-linejoin="miter">ANSWER/END CALL</text>
<text x="874.5" y="978.2" font-size="24.2" font-weight="400" textLength="196.5" lengthAdjust="spacingAndGlyphs" fill="#111" stroke="#111" stroke-width="0.85" stroke-linejoin="miter">REDIAL LAST</text>
<text x="874.5" y="1008.0" font-size="24.2" font-weight="400" textLength="244.5" lengthAdjust="spacingAndGlyphs" fill="#111" stroke="#111" stroke-width="0.85" stroke-linejoin="miter">PHONE NUMBER</text>
<text x="876.0" y="1056.2" font-size="24.2" font-weight="400" textLength="243.0" lengthAdjust="spacingAndGlyphs" fill="#111" stroke="#111" stroke-width="0.85" stroke-linejoin="miter">VOICE CONTROL</text>
<g style="mix-blend-mode:multiply">
<path d="M1040 175 A183 183 0 0 1 1010 520" fill="none" stroke="#f3f3f3" stroke-width="18" />
<circle cx="903" cy="279" r="110" fill="none" stroke="#f7f7f7" stroke-width="3"/>
<circle cx="1009" cy="290" r="110" fill="none" stroke="#f7f7f7" stroke-width="3"/>
<circle cx="675" cy="933" r="127" fill="none" stroke="#f7f7f7" stroke-width="4"/>
<path d="M621.0 875.0C625.0 880.0 633.5 897.8 645.0 905.0C656.5 912.2 674.2 918.0 690.0 918.0C705.8 918.0 725.0 913.0 740.0 905.0C755.0 897.0 770.0 881.3 780.0 870.0C790.0 858.7 796.7 842.5 800.0 837.0" fill="none" stroke="#f3f3f3" stroke-width="9" />
<path d="M800 940 V1060" fill="none" stroke="#f7f7f7" stroke-width="3" />
<ellipse cx="815" cy="945" rx="17" ry="13" fill="#f3f3f3" transform="rotate(-18 815 945)"/>
<path d="M828 940 q22 8 26 28" fill="none" stroke="#f3f3f3" stroke-width="6" />
<path d="M790.0 650.0C798.3 656.7 827.2 676.2 840.0 690.0C852.8 703.8 860.3 718.0 867.0 733.0C873.7 748.0 877.3 764.7 880.0 780.0C882.7 795.3 883.3 810.0 883.0 825.0C882.7 840.0 878.8 862.5 878.0 870.0" fill="none" stroke="#f3f3f3" stroke-width="16" />
<path d="M150.0 800.0C153.0 796.3 161.0 779.7 168.0 778.0C175.0 776.3 187.2 782.2 192.0 790.0C196.8 797.8 201.5 814.7 197.0 825.0C192.5 835.3 178.2 849.5 165.0 852.0C151.8 854.5 129.2 849.5 118.0 840.0C106.8 830.5 98.0 810.3 98.0 795.0C98.0 779.7 107.7 761.3 118.0 748.0C128.3 734.7 148.0 724.7 160.0 715.0C172.0 705.3 185.0 694.2 190.0 690.0" fill="none" stroke="#f3f3f3" stroke-width="12" />
<path d="M88.0 722.0C83.7 732.5 64.3 764.0 62.0 785.0C59.7 806.0 64.0 831.8 74.0 848.0C84.0 864.2 114.0 876.3 122.0 882.0" fill="none" stroke="#f3f3f3" stroke-width="13" />
<path d="M150.0 845.0C154.3 851.7 169.3 870.8 176.0 885.0C182.7 899.2 189.7 915.0 190.0 930.0C190.3 945.0 184.3 964.7 178.0 975.0C171.7 985.3 156.3 989.2 152.0 992.0" fill="none" stroke="#f3f3f3" stroke-width="11" />
<circle cx="137" cy="994" r="10" fill="#f3f3f3"/>
<path d="M278 537 L264 675 M297 560 L290 668 M257 588 L303 567 M245 636 L305 612" fill="none" stroke="#f3f3f3" stroke-width="6.5" />
<path d="M190.0 830.0C208.3 815.8 261.7 772.0 300.0 745.0C338.3 718.0 380.0 690.5 420.0 668.0C460.0 645.5 510.0 623.0 540.0 610.0C570.0 597.0 590.0 593.3 600.0 590.0" fill="none" stroke="#f7f7f7" stroke-width="3" />
<path d="M190.0 841.0C208.3 826.8 261.7 783.2 300.0 756.0C338.3 728.8 380.0 700.8 420.0 677.9C460.0 655.0 510.0 632.0 540.0 618.8C570.0 605.6 590.0 602.1 600.0 598.8" fill="none" stroke="#f7f7f7" stroke-width="3" />
<path d="M190.0 852.0C208.3 837.8 261.7 794.4 300.0 767.0C338.3 739.6 380.0 711.0 420.0 687.8C460.0 664.6 510.0 641.0 540.0 627.6C570.0 614.2 590.0 610.9 600.0 607.6" fill="none" stroke="#f7f7f7" stroke-width="3" />
<path d="M190.0 863.0C208.3 848.8 261.7 805.5 300.0 778.0C338.3 750.5 380.0 721.3 420.0 697.7C460.0 674.1 510.0 650.0 540.0 636.4C570.0 622.8 590.0 619.7 600.0 616.4" fill="none" stroke="#f7f7f7" stroke-width="3" />
<path d="M190.0 874.0C208.3 859.8 261.7 816.7 300.0 789.0C338.3 761.3 380.0 731.6 420.0 707.6C460.0 683.6 510.0 658.9 540.0 645.2C570.0 631.5 590.0 628.5 600.0 625.2" fill="none" stroke="#f7f7f7" stroke-width="3" />
<path d="M560.0 600.0C573.3 593.3 604.5 567.0 640.0 560.0C675.5 553.0 728.5 556.0 773.0 558.0C817.5 560.0 868.0 571.7 907.0 572.0C946.0 572.3 976.5 568.7 1007.0 560.0C1037.5 551.3 1076.2 526.7 1090.0 520.0" fill="none" stroke="#f3f3f3" stroke-width="24" />
<path d="M540.0 700.0C556.7 691.7 603.3 660.0 640.0 650.0C676.7 640.0 716.7 637.0 760.0 640.0C803.3 643.0 858.3 659.7 900.0 668.0C941.7 676.3 991.7 686.3 1010.0 690.0" fill="none" stroke="#f3f3f3" stroke-width="14" />
<path d="M600.0 505.0C616.7 499.2 666.7 478.3 700.0 470.0C733.3 461.7 766.7 455.0 800.0 455.0C833.3 455.0 883.3 467.5 900.0 470.0" fill="none" stroke="#f3f3f3" stroke-width="10" />
<ellipse cx="407" cy="493.5" rx="27" ry="19" fill="#f3f3f3" transform="rotate(-15 407 493.5)"/>
<path d="M381 497 L374 594" fill="none" stroke="#f3f3f3" stroke-width="3.5" />
<path d="M341 657 V780" fill="none" stroke="#f3f3f3" stroke-width="4" />
<ellipse cx="326" cy="775" rx="16" ry="12" fill="#f3f3f3" transform="rotate(-18 326 775)"/>
<ellipse cx="422" cy="696" rx="15" ry="13" fill="#f3f3f3" transform="rotate(-18 422 696)"/>
<ellipse cx="507" cy="700" rx="22" ry="24" fill="#f3f3f3" transform="rotate(0 507 700)"/>
<path d="M443 567 H515" fill="none" stroke="#f3f3f3" stroke-width="6" />
<ellipse cx="957" cy="503" rx="20" ry="19" fill="#f3f3f3" transform="rotate(0 957 503)"/>
<ellipse cx="930" cy="647" rx="19" ry="17" fill="#f3f3f3" transform="rotate(0 930 647)"/>
<ellipse cx="640" cy="660" rx="16" ry="13" fill="#f3f3f3" transform="rotate(-18 640 660)"/>
<ellipse cx="600" cy="760" rx="17" ry="13" fill="#f3f3f3" transform="rotate(-18 600 760)"/>
<path d="M615 758 V690 q14 10 12 30" fill="none" stroke="#f3f3f3" stroke-width="4" />
<circle cx="750" cy="510" r="15" fill="none" stroke="#f3f3f3" stroke-width="5"/>
<path d="M764 508 L760 404 q16 14 26 4" fill="none" stroke="#f3f3f3" stroke-width="4" />
</g>
<circle cx="114.5" cy="806.5" r="1.1" fill="#777"/>
</svg>
</body></html>
